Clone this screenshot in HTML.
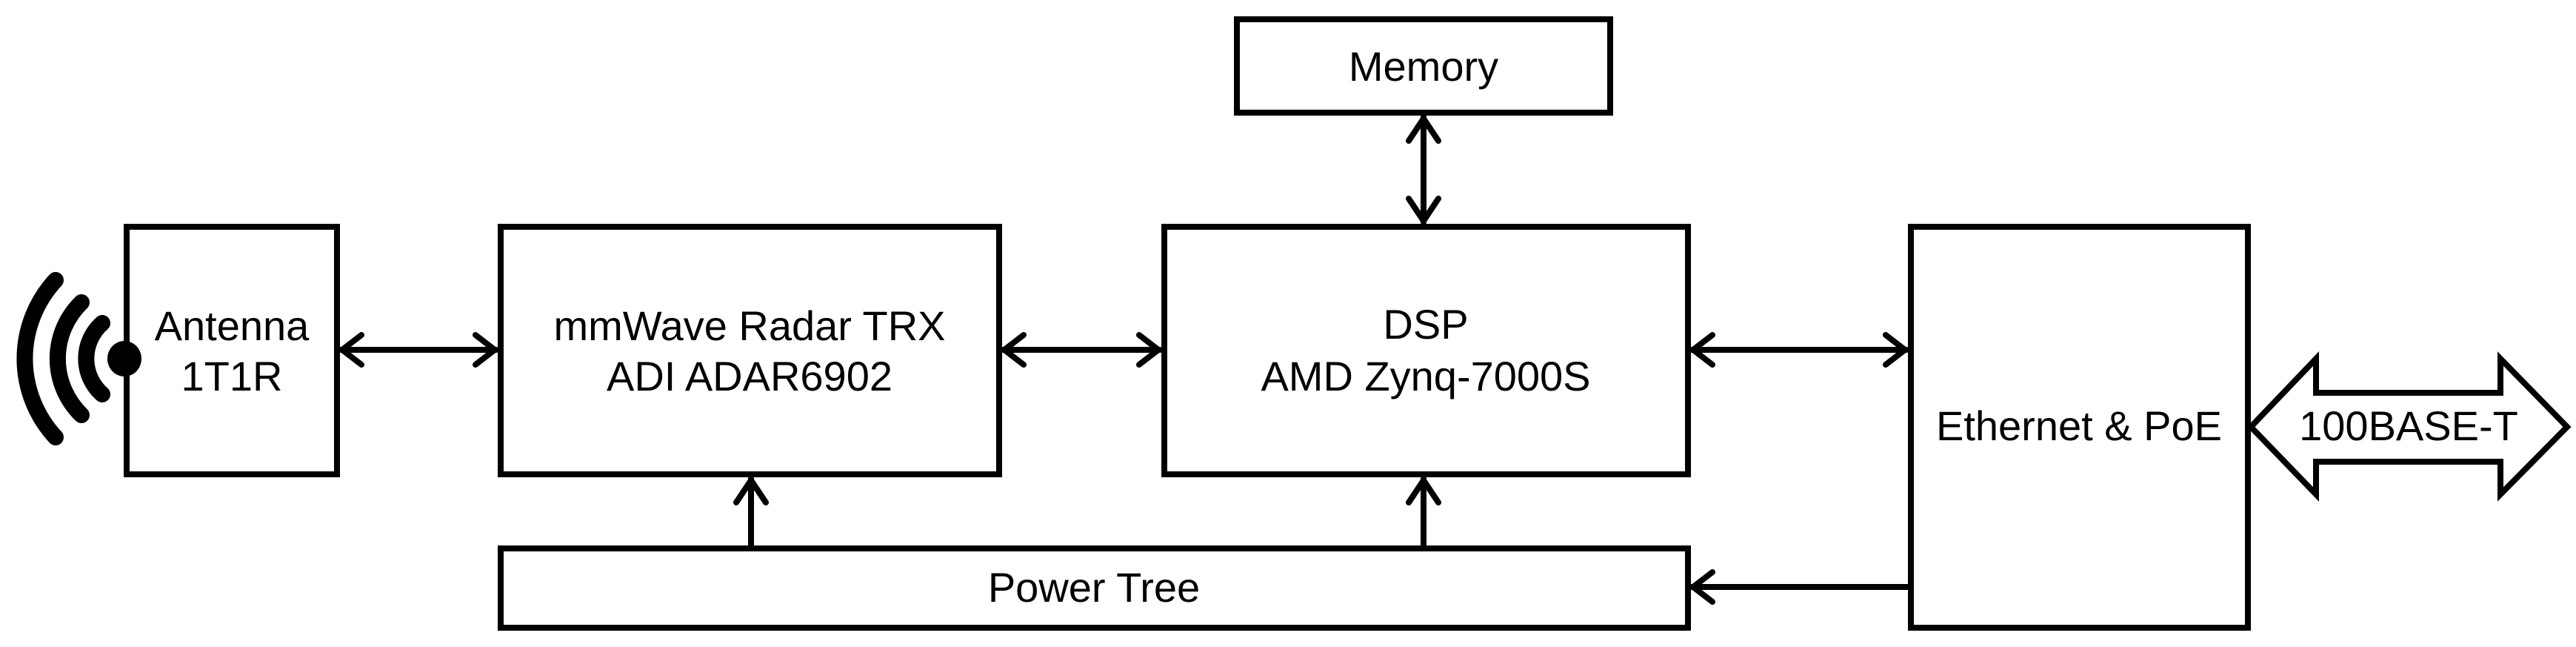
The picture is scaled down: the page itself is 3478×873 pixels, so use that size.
<!DOCTYPE html>
<html><head><meta charset="utf-8"><style>
html,body{margin:0;padding:0;background:#fff;}
svg{display:block;}
text{font-family:"Liberation Sans",Arial,sans-serif;font-size:56px;fill:#000;text-anchor:middle;}
</style></head><body>
<svg width="3478" height="873" viewBox="0 0 3478 873" xmlns="http://www.w3.org/2000/svg">
<g fill="none" stroke="#000" stroke-width="8" stroke-linejoin="miter">
<rect x="171" y="306" width="284" height="334"/>
<rect x="676" y="306" width="673" height="334"/>
<rect x="1572" y="306" width="707" height="334"/>
<rect x="1670" y="26" width="504" height="126"/>
<rect x="2580" y="306" width="455" height="541"/>
<rect x="676" y="740" width="1603" height="107"/>
<path d="M3039,576 L3127,484 L3127,530 L3376,530 L3376,484 L3466,576 L3376,667 L3376,623 L3127,623 L3127,667 Z"/>
</g>
<g fill="none" stroke="#000" stroke-width="8" stroke-linecap="round" stroke-linejoin="round">
<line x1="460" y1="472" x2="670" y2="472"/>
<polyline points="488,452 462,472 488,492"/>
<polyline points="642,452 668,472 642,492"/>
<line x1="1354" y1="472" x2="1566" y2="472"/>
<polyline points="1382,452 1356,472 1382,492"/>
<polyline points="1538,452 1564,472 1538,492"/>
<line x1="2284" y1="472" x2="2574" y2="472"/>
<polyline points="2312,452 2286,472 2312,492"/>
<polyline points="2546,452 2572,472 2546,492"/>
<line x1="1922" y1="157" x2="1922" y2="300"/>
<polyline points="1902,190 1922,160 1942,190"/>
<polyline points="1902,268 1922,298 1942,268"/>
<line x1="1014" y1="735" x2="1014" y2="646"/>
<polyline points="994,678 1014,648 1034,678"/>
<line x1="1922" y1="735" x2="1922" y2="646"/>
<polyline points="1902,678 1922,648 1942,678"/>
<line x1="2576" y1="792" x2="2284" y2="792"/>
<polyline points="2312,772 2286,792 2312,812"/>
</g>
<g fill="none" stroke="#000" stroke-width="22" stroke-linecap="round">
<path d="M138,436 A64,64 0 0 0 138,532"/>
<path d="M110,408 A106,106 0 0 0 110,560"/>
<path d="M75,378 A156,156 0 0 0 75,590"/>
</g>
<ellipse cx="168" cy="484" rx="23" ry="24" fill="#000"/>
<text x="313" y="459">Antenna</text>
<text x="313" y="527">1T1R</text>
<text x="1012" y="459">mmWave Radar TRX</text>
<text x="1012" y="527">ADI ADAR6902</text>
<text x="1925" y="457">DSP</text>
<text x="1925" y="527">AMD Zynq-7000S</text>
<text x="1922" y="109">Memory</text>
<text x="2807" y="594">Ethernet &amp; PoE</text>
<text x="3252" y="594">100BASE-T</text>
<text x="1477" y="812">Power Tree</text>
</svg>
</body></html>
